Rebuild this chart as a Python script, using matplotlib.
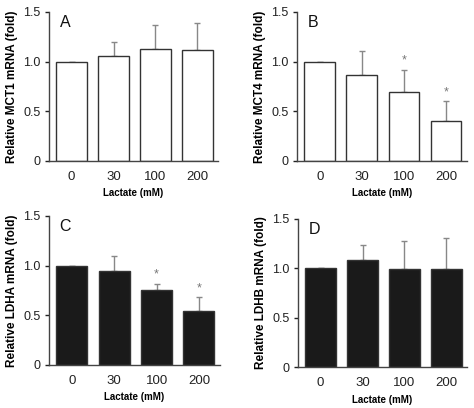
import matplotlib
matplotlib.use("Agg")
import matplotlib.pyplot as plt

plt.rcParams['font.family'] = ['Liberation Sans', 'DejaVu Sans']

# Data
lactate = ["0", "30", "100", "200"]

mct1_mean = [1.0, 1.06, 1.13, 1.12]
mct1_err = [0.0, 0.14, 0.24, 0.27]

mct4_mean = [1.0, 0.87, 0.69, 0.40]
mct4_err = [0.0, 0.24, 0.23, 0.20]

ldha_mean = [1.0, 0.95, 0.76, 0.54]
ldha_err = [0.0, 0.15, 0.06, 0.14]

ldhb_mean = [1.0, 1.08, 0.99, 0.99]
ldhb_err = [0.0, 0.15, 0.28, 0.32]

mct4_sig = [False, False, True, True]
ldha_sig = [False, False, True, True]
no_sig = [False] * 4

panels = [
    ("A", "Relative MCT1 mRNA (fold)", mct1_mean, mct1_err, no_sig, "white",
     [0.1034, 0.6054, 0.357, 0.3652]),
    ("B", "Relative MCT4 mRNA (fold)", mct4_mean, mct4_err, mct4_sig, "white",
     [0.6266, 0.6054, 0.359, 0.3652]),
    ("C", "Relative LDHA mRNA (fold)", ldha_mean, ldha_err, ldha_sig, "#1a1a1a",
     [0.1034, 0.1054, 0.361, 0.3652]),
    ("D", "Relative LDHB mRNA (fold)", ldhb_mean, ldhb_err, no_sig, "#1a1a1a",
     [0.6287, 0.0998, 0.357, 0.3642]),
]

fig = plt.figure(figsize=(4.74, 4.08), dpi=100)

for letter, ylabel, mean, err, sig, fill, rect in panels:
    ax = fig.add_axes(rect)
    x = list(range(len(lactate)))
    ax.bar(x, mean, width=0.73, color=fill, edgecolor="#333333",
           linewidth=1.0, zorder=2)
    ax.errorbar(x, mean, yerr=[[0] * len(err), err], fmt="none",
                ecolor="#888888", elinewidth=1.0, capsize=2.5,
                capthick=1.0, zorder=1)
    for xi, m, e, s in zip(x, mean, err, sig):
        if s:
            ax.text(xi, m + e + 0.09, "*", ha="center", va="center",
                    fontsize=9, color="#777777")

    ax.set_xlim(-0.54, 3.5)
    ax.set_ylim(0, 1.5)
    ax.set_yticks([0, 0.5, 1.0, 1.5])
    ax.set_yticklabels(["0", "0.5", "1.0", "1.5"])
    ax.set_xticks(x)
    ax.set_xticklabels(lactate)
    ax.tick_params(axis="x", length=0, pad=7, labelsize=9.5, colors="#222222")
    ax.tick_params(axis="y", length=3, pad=3, labelsize=9, colors="#222222",
                   width=1.0)
    for side in ["top", "right"]:
        ax.spines[side].set_visible(False)
    for side in ["left", "bottom"]:
        ax.spines[side].set_color("#444444")
        ax.spines[side].set_linewidth(1.0)

    ax.set_xlabel("Lactate (mM)", fontsize=7, fontweight="bold", labelpad=4)
    ax.set_ylabel(ylabel, fontsize=8.5, fontweight="bold", labelpad=4)
    ax.text(0.095, 0.93, letter, transform=ax.transAxes, ha="center",
            va="center", fontsize=11.5, color="#111111")

fig.savefig("out.png", dpi=100)
